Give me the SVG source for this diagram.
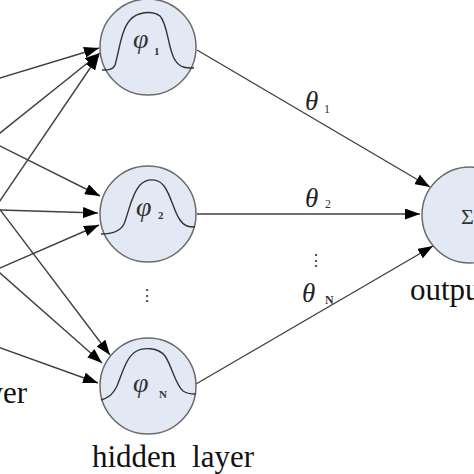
<svg xmlns="http://www.w3.org/2000/svg" width="474" height="474" viewBox="0 0 474 474">
<defs>
<marker id="ah" markerWidth="15" markerHeight="11" refX="15" refY="5.5" orient="auto" markerUnits="userSpaceOnUse"><path d="M0,0 L15,5.5 L0,11 z" fill="#000"/></marker>
<style>
.node{fill:#e2e9f4;stroke:#6a6a6a;stroke-width:1.5}
.curve{fill:none;stroke:#333;stroke-width:1.4}
.edge{stroke:#404040;stroke-width:1.4;fill:none;marker-end:url(#ah)}
.phi{font-family:"Liberation Serif",serif;font-style:italic;font-size:28px;fill:#333}
.sub{font-family:"Liberation Serif",serif;font-weight:bold;font-size:11px;fill:#333}
.th{font-family:"Liberation Serif",serif;font-style:italic;font-size:27px;fill:#222}
.ths{font-family:"Liberation Serif",serif;font-size:12px;fill:#333}
.lbl{font-family:"Liberation Serif",serif;font-size:31px;fill:#111}
.dots{font-family:"Liberation Serif",serif;font-size:16px;fill:#333}
</style>
</defs>
<rect width="474" height="474" fill="#fff"/>
<g id="connectors">
<line class="edge" x1="-30" y1="87" x2="99" y2="48"/>
<line class="edge" x1="-30" y1="157" x2="100" y2="53"/>
<line class="edge" x1="-30" y1="245" x2="99" y2="55"/>
<line class="edge" x1="-30" y1="131" x2="100" y2="196"/>
<line class="edge" x1="-30" y1="209" x2="98" y2="213"/>
<line class="edge" x1="-30" y1="281" x2="99" y2="225"/>
<line class="edge" x1="-30" y1="170" x2="110" y2="355"/>
<line class="edge" x1="-30" y1="246.5" x2="102" y2="363"/>
<line class="edge" x1="-30" y1="337" x2="98" y2="383"/>
<line class="edge" x1="197" y1="50" x2="430" y2="187"/>
<line class="edge" x1="197" y1="214" x2="420" y2="214"/>
<line class="edge" x1="196" y1="384" x2="433" y2="246"/>
</g>
<g id="hidden1">
<circle class="node" cx="148" cy="47" r="48"/>
<path class="curve" d="M102,70 C108,70 113,70 115,65 C119,52 121,30 130,20 C137,12 152,10 160,16 C168,24 168,50 175,60 C180,68 186,68 194,68"/>
<text class="phi" x="133" y="48">φ</text><text class="sub" x="154" y="55">1</text>
</g>
<g id="hidden2">
<circle class="node" cx="148" cy="214" r="48"/>
<path class="curve" d="M101,234 C110,234 120,232 124,224 C129,212 131,195 140,185 C147,178 158,178 164,186 C171,195 174,212 180,220 C184,226 188,227 195,227"/>
<text class="phi" x="136" y="216">φ</text><text class="sub" x="158" y="219">2</text>
</g>
<g id="hiddenN">
<circle class="node" cx="148" cy="386" r="48"/>
<path class="curve" d="M101,400 C107,398 112,396 117,386 C122,374 126,358 135,352 C143,347 158,347 165,356 C172,366 175,384 183,391 C187,394 191,394 196,394"/>
<text class="phi" x="133" y="392">φ</text><text class="sub" x="159" y="398">N</text>
</g>
<g id="output">
<circle class="node" cx="470" cy="215" r="48"/>
<text x="461" y="224" font-family="Liberation Serif,serif" font-size="22" fill="#333">Σ</text>
</g>
<g id="labels">
<text class="th" x="305" y="110">θ</text><text class="ths" x="324" y="113">1</text>
<text class="th" x="305" y="207">θ</text><text class="ths" x="325" y="208">2</text>
<text class="th" x="302" y="302">θ</text><text class="ths" x="325" y="304" font-size="10" font-weight="bold">N</text>
<text class="dots" x="308" y="266">⋮</text>
<text class="dots" x="139" y="301">⋮</text>
<text class="lbl" x="92" y="467" word-spacing="8">hidden layer</text>
<text class="lbl" x="410" y="300" font-size="28">output layer</text>
<text class="lbl" x="27" y="403" text-anchor="end">input layer</text>
</g>
</svg>
